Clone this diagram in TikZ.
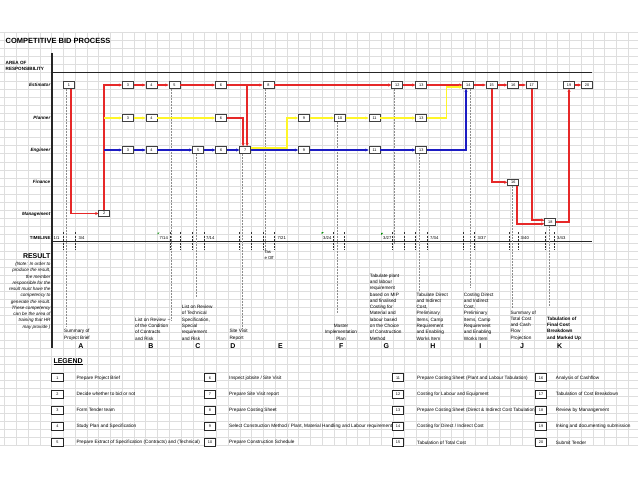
\documentclass[tikz,border=0pt]{standalone}
\usepackage{fontspec}
\setmainfont{Liberation Sans}
\usetikzlibrary{arrows.meta}
\definecolor{flowred}{RGB}{230,40,40}
\definecolor{flowyellow}{RGB}{255,246,40}
\definecolor{flowblue}{RGB}{28,28,195}
\definecolor{gridgray}{RGB}{222,222,222}

\begin{document}
\begin{tikzpicture}[x=1pt,y=-1pt,
    >={Stealth[length=3.2pt,width=3pt]},
    nodebox/.style={draw=black!75,fill=white,line width=0.8pt,minimum width=11pt,minimum height=6.6pt,inner sep=0pt,font=\fontsize{3.8}{4}\selectfont},
    legbox/.style={nodebox,minimum width=11.6pt,minimum height=8pt,line width=1pt,draw=black!85},
    redline/.style={draw=flowred,line width=1.8pt},
    yelline/.style={draw=flowyellow,line width=1.8pt},
    blueline/.style={draw=flowblue,line width=1.6pt},
    dropline/.style={black!45,densely dotted,line width=0.5pt},
    tickmark/.style={black!80,dash pattern=on 2pt off 1.4pt,line width=0.6pt},
    role/.style={anchor=east,inner sep=0pt,font=\fontsize{4.6}{5}\selectfont\bfseries\itshape},
    res/.style={anchor=south west,align=left,inner sep=0pt,font=\fontsize{4.7}{6.27}\selectfont},
    letter/.style={inner sep=0pt,font=\fontsize{7}{8}\selectfont\bfseries},
    legtxt/.style={anchor=west,inner sep=0pt,font=\fontsize{4.7}{5}\selectfont},
    datelbl/.style={anchor=west,inner sep=0pt,font=\fontsize{4.2}{5}\selectfont}]
\fill[white] (0,0) rectangle (638,478);
\useasboundingbox (0,0) rectangle (638,478);
% sheet grid
\foreach \k in {0,...,53} \draw[gridgray,line width=0.4pt] ({4.4+11.77*\k},32.2) -- ({4.4+11.77*\k},445.3);
\foreach \k in {0,...,51} \draw[gridgray,line width=0.4pt] (0,{32.2+8.1*\k}) -- (638,{32.2+8.1*\k});

\node[anchor=west,inner sep=0pt,font=\fontsize{7.5}{9}\selectfont\bfseries] (title) at (5.5,41) {COMPETITIVE BID PROCESS};
\node[anchor=west,align=left,inner sep=0pt,font=\fontsize{4.6}{6}\selectfont\bfseries] (area) at (5.5,66) {AREA OF\\RESPONSIBILITY};
\draw[black!85,line width=1.1pt] (52,53) -- (52,348);
\draw[black!85,line width=1.1pt] (52,72.5) -- (592,72.5);
\draw[black!85,line width=1.3pt] (52,241.5) -- (592,241.5);

% roles
\node[role] (estimator) at (50.5,85) {Estimator};
\node[role] (planner) at (50.5,118) {Planner};
\node[role] (engineer) at (50.5,150) {Engineer};
\node[role] (finance) at (50.5,182.3) {Finance};
\node[role] (management) at (50.5,214) {Management};

% steps
\node[nodebox] (e1) at (69,85) {1};
\node[nodebox] (e3) at (128,85) {3};
\node[nodebox] (e4) at (151.5,85) {4};
\node[nodebox] (e5) at (174.5,85) {5};
\node[nodebox] (e6) at (221,85) {6};
\node[nodebox] (e8) at (268.5,85) {8};
\node[nodebox] (e12) at (397.3,85) {12};
\node[nodebox] (e13) at (421.3,85) {13};
\node[nodebox] (e14) at (468.3,85) {14};
\node[nodebox] (e15) at (491.7,85) {15};
\node[nodebox] (e16) at (513.3,85) {16};
\node[nodebox] (e17) at (531.7,85) {17};
\node[nodebox] (e19) at (569,85) {19};
\node[nodebox] (e20) at (587,85) {20};

\node[nodebox] (p3) at (128,118) {3};
\node[nodebox] (p4) at (151.5,118) {4};
\node[nodebox] (p6) at (221,118) {6};
\node[nodebox] (p9) at (304,118) {9};
\node[nodebox] (p10) at (340,118) {10};
\node[nodebox] (p11) at (374.5,118) {11};
\node[nodebox] (p13) at (421.3,118) {13};

\node[nodebox] (g3) at (128,150) {3};
\node[nodebox] (g4) at (151.5,150) {4};
\node[nodebox] (g5) at (198.3,150) {5};
\node[nodebox] (g6) at (221.3,150) {6};
\node[nodebox] (g7) at (245.3,150) {7};
\node[nodebox] (g9) at (304,150) {9};
\node[nodebox] (g11) at (374.5,150) {11};
\node[nodebox] (g13) at (421.3,150) {13};

\node[nodebox] (f16) at (513.3,182.3) {16};
\node[nodebox] (m2) at (104.3,213.5) {2};
\node[nodebox] (m18) at (550.3,222) {18};

% drops to results
\draw[dropline] ([xshift=-2.5pt]e1.south) -- ++(0,238.5);
\draw[dropline] ([xshift=-3pt]e5.south) -- ++(0,231.7);
\draw[dropline] ([xshift=-1.8pt]g5.south) -- ++(0,142.7);
\draw[dropline] ([xshift=-3pt]g7.south) -- ++(0,174.7);
\draw[dropline] ([xshift=-3pt]e8.south) -- ++(0,161.7);
\draw[dropline] ([xshift=-3pt]p10.south) -- ++(0,191.7);
\draw[dropline] ([xshift=-2.6pt]e12.south) -- ++(0,155.7);
\draw[dropline] ([xshift=-2.3pt]g13.south) -- ++(0,136.7);
\draw[dropline] ([xshift=1.6pt]e14.south) -- ++(0,198.7);
\draw[dropline] ([xshift=-1.5pt]f16.south) -- ++(0,122.4);
\draw[dropline] ([xshift=-1pt]m18.south) -- ++(0,79.7);

% estimator path
\coordinate (e1down) at ([xshift=2.3pt]e1.south);
\coordinate (e1turn) at (e1down |- m2.west);
\draw[redline,->] (e1down) -- (e1turn) -- (m2.west);
\draw[redline,->] (m2.north) |- (e3);
\draw[redline,->] (e3) -- (e4);
\draw[redline,->] (e4) -- (e5);
\draw[redline,->] (e5) -- (e6);
\draw[redline,->] (e6) -- (e8);
\coordinate (eb) at ([xshift=1.8pt]g7.north |- e6);
\draw[redline,->] (eb) -- ([xshift=1.8pt]g7.north);
\draw[redline,->] (p6) -| ([xshift=-2.2pt]g7.north);
\draw[redline,->] (e8) -- (e12);
\draw[redline,->] (e12) -- (e13);
\draw[redline,->] (e13) -- (e14);
\draw[redline,->] (e14) -- (e15);
\draw[redline,->] (e15) -- (e16);
\draw[redline,->] (e16) -- (e17);
\draw[redline,->] (e15) |- (f16);
\draw[redline,->] ([xshift=3.7pt]f16.south) |- ([yshift=-1.8pt]m18.west);
\draw[redline,->] (e17) |- ([yshift=1.8pt]m18.west);
\draw[redline,->] (m18) -| (e19);
\draw[redline,->] (e19) -- (e20);

% planner path
\coordinate (py) at (m2.north |- p3);
\draw[yelline,->] (py) -- (p3);
\draw[yelline,->] (p3) -- (p4);
\draw[yelline,->] (p4) -- (p6);
\draw[yelline,->] ([yshift=2.3pt]g7.east) -| ([xshift=-11.5pt]p9.west) -- (p9);
\draw[yelline,->] (p9) -- (p10);
\draw[yelline,->] (p10) -- (p11);
\draw[yelline,->] (p11) -- (p13);
\draw[yelline,->] (p13) -| ([xshift=-16pt,yshift=-2pt]e14.west) -- ([yshift=-2pt]e14.west);

% engineer path
\coordinate (gy) at (m2.north |- g3);
\draw[blueline,->] (gy) -- (g3);
\draw[blueline,->] (g3) -- (g4);
\draw[blueline,->] (g4) -- (g5);
\draw[blueline,->] (g5) -- (g6);
\draw[blueline,->] (g6) -- (g7);
\draw[blueline,->] (g7) -- (g9);
\draw[blueline,->] (g9) -- (g11);
\draw[blueline,->] (g11) -- (g13);
\draw[blueline,->] (g13) -| ([xshift=-2.3pt]e14.south);

% timeline
\node[anchor=east,inner sep=0pt,font=\fontsize{4.4}{5}\selectfont\bfseries] (timeline) at (50.7,237.5) {TIMELINE};
\foreach \x in {63.3,75.3,170.7,180.3,192.7,204.3,239.3,251.3,263,274,333.7,344.7,392,404,415.7,427,463.7,474.7,509,518,545.7,554.7}
  \draw[tickmark] (\x,232.5) -- (\x,250);
\foreach \x/\a/\b in {53.5/1/1,78.5/3/4,159.5/7/14,206/7/14,277.5/7/21,323/3/24,383/3/27,430/7/34,477.5/3/37,520.5/3/40,557/3/43}
  \node[datelbl] at (\x,238) {\a/\b};
\fill[green!55!black] (157.6,232.6) -- ++(2,0) -- ++(-2,2) -- cycle;
\fill[green!55!black] (321.6,232.2) -- ++(2,0) -- ++(-2,2) -- cycle;
\fill[green!55!black] (381.2,233) -- ++(2,0) -- ++(-2,2) -- cycle;
\node[anchor=north west,align=left,inner sep=0pt,font=\fontsize{4.2}{6.7}\selectfont] (tas) at (264.3,250) {Tas\\e Off};

% results
\node[anchor=east,inner sep=0pt,font=\fontsize{7}{8}\selectfont\bfseries] (result) at (50.7,255.7) {RESULT};
\node[anchor=north east,align=right,inner sep=0pt,font=\fontsize{4.6}{6.26}\selectfont\itshape] (note) at (50.7,262) {(Note: In order to\\produce the result,\\the member\\responsible for the\\result must have the\\competency to\\generate the result.\\These competency\\can be the area of\\training that HR\\may provide )};
\node[res] (resA) at (64,340.3) {Summary of\\Project Brief};
\node[res] (resB) at (135,340.3) {List on Review \,--\\of the Condition\\of Contracts\\and Risk};
\node[res] (resC) at (181.7,340.3) {List on Review\\of Technical\\Specification,\\Special\\requirement\\and Risk};
\node[res] (resD) at (229.3,340.3) {Site Visit\\Report};
\node[res,anchor=south,align=center] (resF) at (341,340.3) {Master\\Implementation\\Plan};
\node[res] (resG) at (369.7,340.3) {Tabulate plant\\and labour\\requirement\\based on MIP\\and finalised\\Costing for\\Material and\\labour based\\on the Choice\\of Construction\\Method};
\node[res] (resH) at (416.3,340.3) {Tabulate Direct\\and Indirect\\Cost,\\Preliminary\\Items, Camp\\Requirement\\and Enabling\\Works Item};
\node[res] (resI) at (463.7,340.3) {Costing Direct\\and Indirect\\Cost,\\Preliminary\\Items, Camp\\Requirement\\and Enabling\\Works Item};
\node[res] (resJ) at (510.3,340.3) {Summary of\\Total Cost\\and Cash\\Flow\\Projection};
\node[res,font=\fontsize{4.7}{6.27}\selectfont\bfseries] (resK) at (547,340.3) {Tabulation of\\Final Cost\\Breakdown\\and Marked Up};
\node[letter] (A) at (81,346) {A};
\node[letter] (B) at (151,346) {B};
\node[letter] (C) at (198,346) {C};
\node[letter] (D) at (233,346) {D};
\node[letter] (E) at (280.5,346) {E};
\node[letter] (F) at (341.3,346) {F};
\node[letter] (G) at (386.3,346) {G};
\node[letter] (H) at (433,346) {H};
\node[letter] (I) at (480.3,346) {I};
\node[letter] (J) at (522,346) {J};
\node[letter] (K) at (559.7,346) {K};

% legend
\node[anchor=west,inner sep=0pt,font=\fontsize{7}{8}\selectfont\bfseries] (legend) at (53.3,361.7) {\underline{LEGEND}};
\node[legtxt] (t1) at (76.3,378) {Prepare Project Brief};
\node[legtxt] (t2) at (76.3,394.2) {Decide whether to bid or not};
\node[legtxt] (t3) at (76.3,410.3) {Form Tender team};
\node[legtxt] (t4) at (76.3,426.5) {Study Plan and Specification};
\node[legtxt] (t5) at (76.3,442.7) {Prepare Extract of Specification (Contracts) and (Technical)};
\node[legtxt] (t6) at (229,378) {Inspect jobsite / Site Visit};
\node[legtxt] (t7) at (229,394.2) {Prepare Site Visit report};
\node[legtxt] (t8) at (229,410.3) {Prepare Costing Sheet};
\node[legtxt] (t9) at (229,426.5) {Select Construction Method / Plant, Material Handling and Labour requirement};
\node[legtxt] (t10) at (229,442.7) {Prepare Construction Schedule};
\node[legtxt] (t11) at (417,378) {Prepare Costing Sheet (Plant and Labour Tabulation)};
\node[legtxt] (t12) at (417,394.2) {Costing for Labour and Equipment};
\node[legtxt] (t13) at (417,410.3) {Prepare Costing Sheet (Direct \& Indirect Cost Tabulation)};
\node[legtxt] (t14) at (417,426.5) {Costing for Direct / Indirect Cost};
\node[legtxt] (t15) at (417,442.7) {Tabulation of Total Cost};
\node[legtxt] (t16) at (555.7,378) {Analysis of Cashflow};
\node[legtxt] (t17) at (555.7,394.2) {Tabulation of Cost Breakdown};
\node[legtxt] (t18) at (555.7,410.3) {Review by Manangement};
\node[legtxt] (t19) at (555.7,426.5) {Inking and documenting submission};
\node[legtxt] (t20) at (555.7,442.7) {Submit Tender};
\foreach \n [count=\i from 0] in {1,...,5} \node[legbox] (l\n) at (57.5,{378+16.17*\i}) {\n};
\foreach \n [count=\i from 0] in {6,...,10} \node[legbox] (l\n) at (210,{378+16.17*\i}) {\n};
\foreach \n [count=\i from 0] in {11,...,15} \node[legbox] (l\n) at (398,{378+16.17*\i}) {\n};
\foreach \n [count=\i from 0] in {16,...,20} \node[legbox] (l\n) at (541,{378+16.17*\i}) {\n};
\end{tikzpicture}
\end{document}
